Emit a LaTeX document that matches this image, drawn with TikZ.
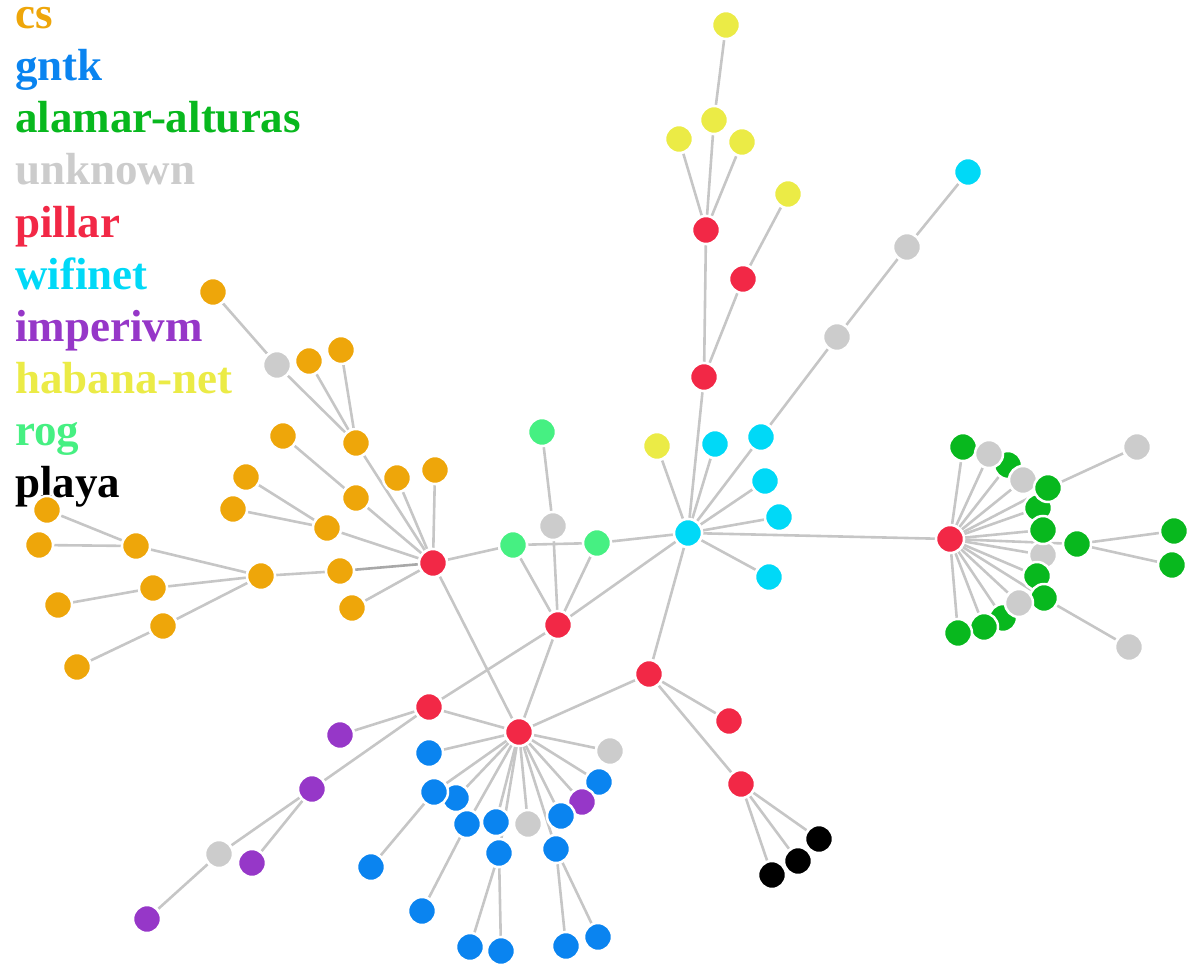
\documentclass[tikz,border=0pt]{standalone}
\usepackage{fontspec}
\setmainfont{Liberation Serif}
\pgfdeclarelayer{background}
\pgfsetlayers{background,main}
\definecolor{csc}{HTML}{EEA60A}
\definecolor{gntkc}{HTML}{0A84F0}
\definecolor{alac}{HTML}{08B81E}
\definecolor{unkc}{HTML}{CCCCCC}
\definecolor{pilc}{HTML}{F22846}
\definecolor{wific}{HTML}{00D9F7}
\definecolor{impc}{HTML}{9637C8}
\definecolor{habc}{HTML}{EBEB46}
\definecolor{rogc}{HTML}{46F082}
\definecolor{playc}{HTML}{000000}
\definecolor{edgec}{HTML}{C6C6C6}
\definecolor{edgedark}{HTML}{A8A8A8}
\tikzset{
  nd/.style={circle, fill=#1, draw=white, line width=2.5pt, minimum size=28pt, inner sep=0pt},
  cs/.style={nd=csc}, gn/.style={nd=gntkc}, al/.style={nd=alac}, un/.style={nd=unkc},
  pi/.style={nd=pilc}, wf/.style={nd=wific}, im/.style={nd=impc}, hb/.style={nd=habc},
  rg/.style={nd=rogc}, pl/.style={nd=playc},
  edge/.style={draw=edgec, line width=2.6pt},
  darkedge/.style={draw=edgedark, line width=2.6pt},
  legend/.style={anchor=base west, font=\fontsize{45}{52}\selectfont\bfseries, inner sep=0pt}
}
\begin{document}
\begin{tikzpicture}[x=1pt,y=-1pt]
\useasboundingbox (0,0) rectangle (1190,968);
% legend
\node[legend, text=csc, text height=22pt] (l1) at (15,28.5) {cs};
\node[legend, text=gntkc] (l2) at (15,81) {gntk};
\node[legend, text=alac] (l3) at (15,133) {alamar-alturas};
\node[legend, text=unkc] (l4) at (15,185) {unknown};
\node[legend, text=pilc] (l5) at (15,237) {pillar};
\node[legend, text=wific] (l6) at (15,289) {wifinet};
\node[legend, text=impc] (l7) at (15,341) {imperivm};
\node[legend, text=habc] (l8) at (15,393) {habana-net};
\node[legend, text=rogc] (l9) at (15,445) {rog};
\node[legend, text=playc] (l10) at (15,497) {playa};
% cs
\node[cs] (o1) at (213,292) {};
\node[cs] (o2) at (309,361) {};
\node[cs] (o3) at (341,350) {};
\node[cs] (o4) at (356,443) {};
\node[cs] (o5) at (283,436) {};
\node[cs] (o6) at (356,498) {};
\node[cs] (o7) at (246,477) {};
\node[cs] (o8) at (233,509) {};
\node[cs] (o9) at (327,528) {};
\node[cs] (o10) at (397,478) {};
\node[cs] (o11) at (435,470) {};
\node[cs] (o12) at (340,571) {};
\node[cs] (o13) at (352,608) {};
\node[cs] (o14) at (261,576) {};
\node[cs] (o15) at (136,546) {};
\node[cs] (o16) at (47,510) {};
\node[cs] (o17) at (39,545) {};
\node[cs] (o18) at (153,588) {};
\node[cs] (o19) at (58,605) {};
\node[cs] (o20) at (163,626) {};
\node[cs] (o21) at (77,667) {};
% unknown (some)
\node[un] (u1) at (277,365) {};
\node[un] (u2) at (553,526) {};
\node[un] (u3) at (907,247) {};
\node[un] (u4) at (837,337) {};
\node[un] (uft) at (1137,447) {};
\node[un] (ufb) at (1129,647) {};
\node[un] (uR) at (610,751) {};
\node[un] (uL) at (219,854) {};
% pillar
\node[pi] (R0) at (433,563) {};
\node[pi] (R1) at (706,230) {};
\node[pi] (R2) at (743,279) {};
\node[pi] (R3) at (704,377) {};
\node[pi] (R4) at (558,625) {};
\node[pi] (R5) at (649,674) {};
\node[pi] (R6) at (429,707) {};
\node[pi] (R7) at (519,732) {};
\node[pi] (R8) at (729,721) {};
\node[pi] (R9) at (741,784) {};
\node[pi] (Rg) at (950,539) {};
% wifinet
\node[wf] (C0) at (688,533) {};
\node[wf] (c1) at (715,444) {};
\node[wf] (c2) at (761,437) {};
\node[wf] (c3) at (765,481) {};
\node[wf] (c4) at (779,517) {};
\node[wf] (c5) at (769,577) {};
\node[wf] (cf) at (968,172) {};
% habana-net
\node[hb] (Y1) at (726,25) {};
\node[hb] (Y2) at (714,120) {};
\node[hb] (Y3) at (679,139) {};
\node[hb] (Y4) at (742,142) {};
\node[hb] (Y5) at (788,194) {};
\node[hb] (Y6) at (657,446) {};
% rog
\node[rg] (r1) at (542,432) {};
\node[rg] (r2) at (513,545) {};
\node[rg] (r3) at (597,543) {};
% alamar-alturas cluster
\node[al] (g2) at (1008,465) {};
\node[al] (g4) at (1038,508) {};
\node[un] (uc) at (1043,555) {};
\node[al] (g9) at (1003,618) {};
\node[al] (g1) at (963,447) {};
\node[un] (ua) at (989,454) {};
\node[un] (ub) at (1023,480) {};
\node[al] (g3) at (1048,488) {};
\node[al] (g5) at (1043,530) {};
\node[al] (g6) at (1077,544) {};
\node[al] (g7) at (1037,576) {};
\node[al] (g8) at (1044,598) {};
\node[un] (ud) at (1019,603) {};
\node[al] (g10) at (984,627) {};
\node[al] (g11) at (958,633) {};
\node[al] (gf1) at (1174,531) {};
\node[al] (gf2) at (1172,565) {};
% gntk
\node[gn] (b1) at (429,753) {};
\node[gn] (b3) at (456,798) {};
\node[gn] (b2) at (434,792) {};
\node[gn] (b4) at (599,782) {};
\node[im] (p2) at (582,802) {};
\node[gn] (b5) at (467,824) {};
\node[gn] (b6) at (496,822) {};
\node[un] (u2b) at (528,824) {};
\node[gn] (b7) at (561,816) {};
\node[gn] (b8) at (499,853) {};
\node[gn] (b9) at (556,849) {};
\node[gn] (b10) at (371,867) {};
\node[gn] (b11) at (422,911) {};
\node[gn] (b12) at (470,947) {};
\node[gn] (b13) at (501,951) {};
\node[gn] (b14) at (566,946) {};
\node[gn] (b15) at (598,937) {};
% imperivm
\node[im] (p1) at (340,735) {};
\node[im] (p3) at (312,789) {};
\node[im] (p4) at (252,863) {};
\node[im] (p5) at (147,919) {};
% playa
\node[pl] (k1) at (819,839) {};
\node[pl] (k3) at (772,875) {};
\node[pl] (k2) at (798,861) {};
\begin{pgfonlayer}{background}
\foreach \a/\b in {R0/o4,R0/o6,R0/o9,R0/o10,R0/o11,R0/o13,R0/r2,R0/R7,
  o1/u1,u1/o4,o2/o4,o3/o4,o5/o6,o7/o9,o8/o9,o12/o14,o14/o15,o15/o16,o15/o17,
  o14/o18,o18/o19,o14/o20,o20/o21,
  r2/r3,r3/C0,R4/r2,R4/u2,R4/r3,R4/C0,u2/r1,R4/R6,R4/R7,
  C0/Y6,C0/c1,C0/c2,C0/c3,C0/c4,C0/c5,C0/R3,C0/Rg,C0/R5,
  R3/R1,R3/R2,R1/Y2,R1/Y3,R1/Y4,Y2/Y1,R2/Y5,c2/u4,u4/u3,u3/cf,
  Rg/g1,Rg/ua,Rg/g2,Rg/ub,Rg/g3,Rg/g4,Rg/g5,Rg/g6,Rg/uc,Rg/g7,Rg/g8,Rg/ud,Rg/g9,Rg/g10,Rg/g11,
  g3/uft,g6/gf1,g6/gf2,g8/ufb,
  R7/R6,R7/R5,R7/b1,R7/b2,R7/b3,R7/b5,R7/b6,R7/b8,R7/u2b,R7/b7,R7/b9,R7/p2,R7/b4,R7/uR,
  b2/b10,b5/b11,b8/b12,b8/b13,b9/b14,b9/b15,
  R6/p1,R6/p3,p3/uL,p3/p4,uL/p5,
  R5/R8,R5/R9,R9/k1,R9/k2,R9/k3}
  \draw[edge] (\a) -- (\b);
\draw[darkedge] (R0) -- (o12);
\end{pgfonlayer}
\end{tikzpicture}
\end{document}
